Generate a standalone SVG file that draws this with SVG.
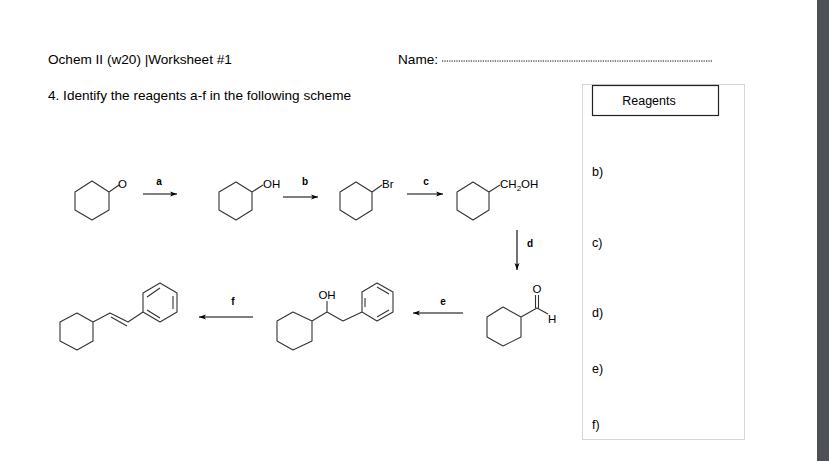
<svg xmlns="http://www.w3.org/2000/svg" width="829" height="461" viewBox="0 0 829 461">
<style>
.t{font-family:"Liberation Sans",Arial,sans-serif;fill:#000}
.h{font-size:13.6px}
.p{font-size:12.5px}
.c{font-size:11.5px}
.l{font-size:10px;font-weight:bold}
.b{fill:none;stroke:#333;stroke-width:1.1;stroke-linejoin:round}
.a{stroke:#000;stroke-width:1.1}
</style>
<defs><marker id="ah" viewBox="0 0 10 10" refX="10" refY="5" markerWidth="9" markerHeight="7" orient="auto" markerUnits="userSpaceOnUse"><path d="M0,1.5 L10,5 L0,8.5 L2.5,5z" fill="#000"/></marker></defs>
<rect width="829" height="461" fill="#fff"/>
<rect x="817" y="0" width="12" height="461" fill="#4d5054"/>
<text class="t h" x="48" y="64">Ochem II (w20) |Worksheet #1</text>
<text class="t h" x="398" y="64">Name:</text>
<line x1="442" y1="61" x2="713" y2="61" stroke="#000" stroke-width="1.2" stroke-dasharray="1.2,1.2"/>
<text class="t h" x="48" y="100">4. Identify the reagents a-f in the following scheme</text>
<g id="panel">
<rect x="582.5" y="84.5" width="162" height="355" fill="none" stroke="#d6d6d6"/>
<rect x="592.5" y="85.5" width="126" height="30" fill="#fff" stroke="#222" stroke-width="1.2"/>
<text class="t p" x="649" y="105" text-anchor="middle">Reagents</text>
<text class="t p" x="592" y="176">b)</text>
<text class="t p" x="592" y="247">c)</text>
<text class="t p" x="592" y="317">d)</text>
<text class="t p" x="592" y="373">e)</text>
<text class="t p" x="592" y="429">f)</text>
</g>
<g id="m1">
<path class="b" d="M92,181 L109,192 L109,210 L92,220 L75,210 L75,192 Z M109,192 L119,185"/>
<text class="t c" x="118" y="188">O</text>
</g>
<g id="m2">
<path class="b" d="M236,182 L252,192 L252,210 L236,220 L219,210 L219,192 Z M252,192 L263,185"/>
<text class="t c" x="263" y="188">OH</text>
</g>
<g id="m3">
<path class="b" d="M356,182 L372,192 L372,210 L356,220 L340,210 L340,192 Z M372,192 L382,185"/>
<text class="t c" x="382" y="188">Br</text>
</g>
<g id="m4">
<path class="b" d="M473,182 L489,192 L489,210 L473,220 L457,210 L457,192 Z M489,192 L500,185"/>
<text class="t c" x="500" y="188">CH<tspan font-size="8" dy="3">2</tspan><tspan dy="-3">OH</tspan></text>
</g>
<g id="m5">
<path class="b" d="M503,307 L521,317 L521,337 L503,346 L487,337 L487,317 Z M521,317 L537,308 L548,314 M535.5,308 L535.5,295 M538.5,308 L538.5,295"/>
<text class="t c" x="537" y="293" text-anchor="middle">O</text>
<text class="t c" x="548" y="323">H</text>
</g>
<g id="m6">
<path class="b" d="M293,312 L312,321 L312,341 L293,350 L277,341 L277,321 Z M312,321 L327,312 L343,321 L362,312 M327,312 L327,301"/>
<path class="b" d="M362,292 L377,283 L393,292 L393,312 L377,321 L362,312 Z M365,298 L365,307 M377,287 L389,294 M389,310 L377,317"/>
<text class="t c" x="327" y="299" text-anchor="middle">OH</text>
</g>
<g id="m7">
<path class="b" d="M77,313 L93,322 L93,341 L77,350 L60,341 L60,322 Z M93,322 L110,313 L128,322 L143,312 M111,317 L127,326"/>
<path class="b" d="M143,293 L160,283 L177,293 L177,312 L160,322 L143,312 Z M147,297 L160,288 M173,296 L173,309 M160,318 L147,310"/>
</g>
<g id="connectors">
<line class="a" x1="143" y1="194" x2="177" y2="194" marker-end="url(#ah)"/>
<line class="a" x1="283" y1="197" x2="318" y2="197" marker-end="url(#ah)"/>
<line class="a" x1="407" y1="194" x2="443" y2="194" marker-end="url(#ah)"/>
<line class="a" x1="517" y1="230" x2="517" y2="270" marker-end="url(#ah)"/>
<line class="a" x1="463" y1="313" x2="413" y2="313" marker-end="url(#ah)"/>
<line class="a" x1="253" y1="317" x2="199" y2="317" marker-end="url(#ah)"/>
<text class="t l" x="159" y="185" text-anchor="middle">a</text>
<text class="t l" x="305" y="185" text-anchor="middle">b</text>
<text class="t l" x="426" y="185" text-anchor="middle">c</text>
<text class="t l" x="530" y="247" text-anchor="middle">d</text>
<text class="t l" x="443" y="305" text-anchor="middle">e</text>
<text class="t l" x="233" y="305" text-anchor="middle">f</text>
</g>
</svg>
